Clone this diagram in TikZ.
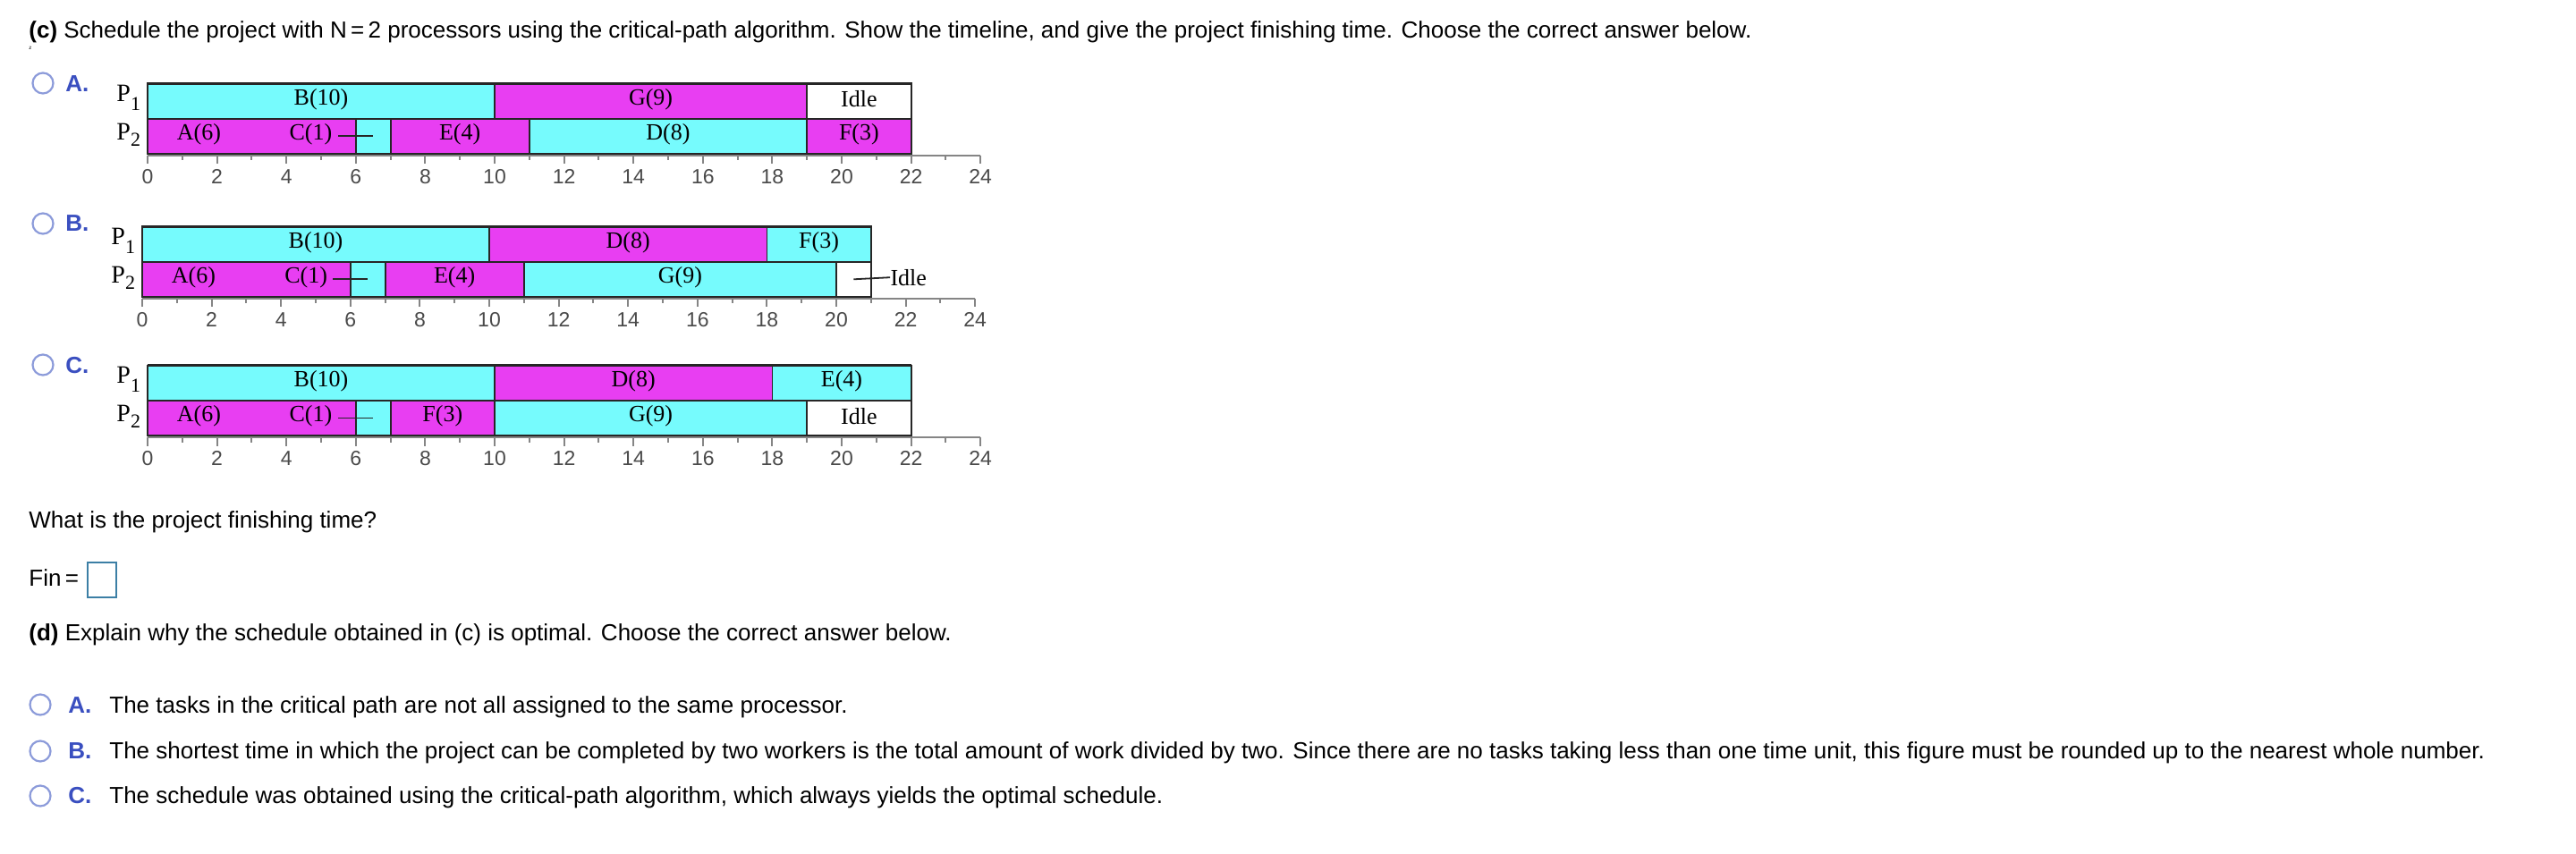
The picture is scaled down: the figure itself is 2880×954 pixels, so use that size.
\documentclass[tikz,border=0pt]{standalone}
\usepackage{fontspec}
\setmainfont{Liberation Sans}
\newfontfamily\serifT{Liberation Serif}
\definecolor{cyanT}{HTML}{76FBFD}
\definecolor{magT}{HTML}{E83EF2}
\definecolor{frameC}{HTML}{262626}
\definecolor{axisC}{HTML}{858585}
\definecolor{optBlue}{HTML}{3A4FC0}
\definecolor{radioC}{HTML}{8C9BDA}
\definecolor{boxC}{HTML}{3C7FA5}
\definecolor{tickT}{HTML}{4A4A4A}
\tikzset{
  txt/.style={anchor=base west, inner sep=0pt, font=\fontsize{13}{15}\selectfont},
  optlab/.style={anchor=base west, inner sep=0pt, font=\fontsize{13}{15}\selectfont\bfseries, text=optBlue},
  radio/.style={circle, draw=radioC, line width=1.1pt, fill=white, minimum size=11.5pt, inner sep=0pt},
  cy/.style={fill=cyanT, draw=frameC, line width=0.9pt},
  mg/.style={fill=magT, draw=frameC, line width=0.9pt},
  idlebox/.style={fill=white, draw=frameC, line width=0.9pt},
  tlab/.style={inner sep=0pt, font=\serifT\fontsize{13}{15}\selectfont},
  plab/.style={anchor=base west, inner sep=0pt, font=\serifT\fontsize{14}{16}\selectfont},
  ticklab/.style={inner sep=0pt, font=\fontsize{11.5}{13}\selectfont, text=tickT},
  axisline/.style={draw=axisC, line width=1.2pt},
  tickline/.style={draw=axisC, line width=1pt},
  leader/.style={draw=frameC, line width=0.9pt},
  topedge/.style={draw=frameC, line width=1.4pt}
}
\newcommand\taskbox[6]{%
  \draw[#5] (#2,{#4*39.3}) rectangle (#3,{(#4+1)*39.3});
  \node[tlab] (#1) at ({(#2+#3)/2},{#4*39.3+17.6}) {#6};}
\newcommand\plainbox[4]{%
  \draw[#4] (#1,{#3*39.3}) rectangle (#2,{(#3+1)*39.3});}
\newcommand\timeaxis[1]{%
  \draw[axisline] (0,80.5) -- (24,80.5);
  \foreach \t in {1,3,...,23}{\draw[tickline] (\t,80.5) -- (\t,86);}
  \foreach \t in {0,2,...,24}{\draw[tickline] (\t,80.5) -- (\t,90);
     \node[ticklab] (#1-t\t) at (\t,104) {\t};}}
\newcommand\plabels[1]{%
  \node[plab] (#1-p1) at (-0.9,20) {P\raisebox{-5pt}{\fontsize{11}{12}\selectfont 1}};
  \node[plab] (#1-p2) at (-0.9,63.4) {P\raisebox{-3.3pt}{\fontsize{11}{12}\selectfont 2}};}
\begin{document}
\begin{tikzpicture}[x=0.5pt,y=-0.5pt]
\useasboundingbox (0,0) rectangle (2880,954);
\fill[white] (0,0) rectangle (2880,954);

% title
\node[txt] (title) at (32,42) {\textbf{(c)} Schedule the project with N\,=\,2 processors using the critical-path algorithm. Show the timeline, and give the project finishing time. Choose the correct answer below.};
\node[anchor=base west, inner sep=0pt, font=\fontsize{3}{3}\selectfont] (zmark) at (32,55) {z};

% option A chart
\node[radio] (ra) at (48,93) {};
\node[optlab] (la) at (73,102) {A.};
\begin{scope}[shift={(165,93.3)}, x=19.4pt]
  \taskbox{a-B}{0}{10}{0}{cy}{B(10)}
  \taskbox{a-G}{10}{19}{0}{mg}{G(9)}
  \taskbox{a-I}{19}{22}{0}{idlebox}{Idle}
  \plainbox{0}{6}{1}{mg}
  \plainbox{6}{7}{1}{cy}
  \taskbox{a-E}{7}{11}{1}{mg}{E(4)}
  \taskbox{a-D}{11}{19}{1}{cy}{D(8)}
  \taskbox{a-F}{19}{22}{1}{mg}{F(3)}
  \node[tlab] (a-A) at (1.48,56.9) {A(6)};
  \node[tlab] (a-C) at (4.7,56.9) {C(1)};
  \coordinate (a-c1) at (5.5,59);
  \coordinate (a-c2) at (6.5,59);
  \draw[leader] (a-c1) -- (a-c2);
  \draw[topedge] (0,0) -- (22,0);
  \plabels{a}
  \timeaxis{a}
\end{scope}

% option B chart
\node[radio] (rb) at (48,250) {};
\node[optlab] (lb) at (73,258) {B.};
\begin{scope}[shift={(159,253.3)}, x=19.4pt]
  \taskbox{b-B}{0}{10}{0}{cy}{B(10)}
  \taskbox{b-D}{10}{18}{0}{mg}{D(8)}
  \taskbox{b-F}{18}{21}{0}{cy}{F(3)}
  \plainbox{0}{6}{1}{mg}
  \plainbox{6}{7}{1}{cy}
  \taskbox{b-E}{7}{11}{1}{mg}{E(4)}
  \taskbox{b-G}{11}{20}{1}{cy}{G(9)}
  \plainbox{20}{21}{1}{idlebox}
  \node[tlab] (b-A) at (1.48,56.9) {A(6)};
  \node[tlab] (b-C) at (4.72,56.9) {C(1)};
  \coordinate (b-c1) at (5.5,59);
  \coordinate (b-c2) at (6.5,59);
  \draw[leader] (b-c1) -- (b-c2);
  \node[tlab, anchor=west] (b-I) at (21.55,56.9) {Idle};
  \coordinate (b-i1) at (20.5,59);
  \draw[leader] (b-i1) -- (b-I.west);
  \draw[topedge] (0,0) -- (21,0);
  \plabels{b}
  \timeaxis{b}
\end{scope}

% option C chart
\node[radio] (rc) at (48,408) {};
\node[optlab] (lc) at (73,417) {C.};
\begin{scope}[shift={(165,408.5)}, x=19.4pt]
  \taskbox{c-B}{0}{10}{0}{cy}{B(10)}
  \taskbox{c-D}{10}{18}{0}{mg}{D(8)}
  \taskbox{c-E}{18}{22}{0}{cy}{E(4)}
  \plainbox{0}{6}{1}{mg}
  \plainbox{6}{7}{1}{cy}
  \taskbox{c-F}{7}{10}{1}{mg}{F(3)}
  \taskbox{c-G}{10}{19}{1}{cy}{G(9)}
  \taskbox{c-I}{19}{22}{1}{idlebox}{Idle}
  \node[tlab] (c-A) at (1.48,56.9) {A(6)};
  \node[tlab] (c-C) at (4.7,56.9) {C(1)};
  \coordinate (c-c1) at (5.5,59);
  \coordinate (c-c2) at (6.5,59);
  \draw[leader] (c-c1) -- (c-c2);
  \draw[topedge] (0,0) -- (22,0);
  \plabels{c}
  \timeaxis{c}
\end{scope}

% finishing time
\node[txt] (q) at (32,590) {What is the project finishing time?};
\node[txt] (fin) at (32,655) {Fin\,=};
\node[draw=boxC, line width=0.9pt, anchor=north west, minimum width=16pt, minimum height=19.5pt, inner sep=0pt] (finbox) at (97,628) {};

% part d
\node[txt] (d) at (32,716) {\textbf{(d)} Explain why the schedule obtained in (c) is optimal. Choose the correct answer below.};

\node[radio] (dra) at (45,788) {};
\node[optlab] (dla) at (76,797) {A.};
\node[txt] (dta) at (122,797) {The tasks in the critical path are not all assigned to the same processor.};
\node[radio] (drb) at (45,840) {};
\node[optlab] (dlb) at (76,848) {B.};
\node[txt] (dtb) at (122,848) {The shortest time in which the project can be completed by two workers is the total amount of work divided by two. Since there are no tasks taking less than one time unit, this figure must be rounded up to the nearest whole number.};
\node[radio] (drc) at (45,890) {};
\node[optlab] (dlc) at (76,898) {C.};
\node[txt] (dtc) at (122,898) {The schedule was obtained using the critical-path algorithm, which always yields the optimal schedule.};
\end{tikzpicture}
\end{document}
